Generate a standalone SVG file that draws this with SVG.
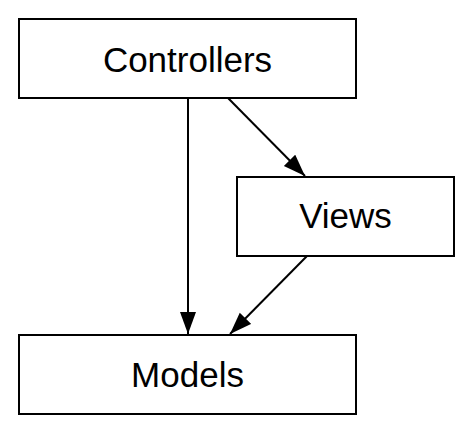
<svg xmlns="http://www.w3.org/2000/svg" width="474" height="434" viewBox="0 0 474 434">
<style>
.box{fill:#fff;stroke:#000;stroke-width:2}
.lbl{font-family:"Liberation Sans",Arial,sans-serif;font-size:35px;fill:#000;text-anchor:middle}
.edge{stroke:#000;stroke-width:2;fill:none;marker-end:url(#arr)}
</style>
<defs>
<marker id="arr" markerUnits="userSpaceOnUse" markerWidth="23" markerHeight="17" refX="22" refY="8" orient="auto">
<path d="M0,0 L22,8 L0,16 z" fill="#000"/>
</marker>
</defs>
<rect width="474" height="434" fill="#fff"/>
<g id="edges">
<line class="edge" x1="188" y1="98" x2="188" y2="334"/>
<line class="edge" x1="228" y1="98" x2="305" y2="176"/>
<line class="edge" x1="307" y1="256" x2="230" y2="334"/>
</g>
<g id="controllers">
<rect class="box" x="19" y="19" width="337" height="79"/>
<text class="lbl" x="187.5" y="72">Controllers</text>
</g>
<g id="views">
<rect class="box" x="237" y="177" width="217" height="79"/>
<text class="lbl" x="345.5" y="228">Views</text>
</g>
<g id="models">
<rect class="box" x="19" y="335" width="337" height="79"/>
<text class="lbl" x="187.5" y="387">Models</text>
</g>
</svg>
